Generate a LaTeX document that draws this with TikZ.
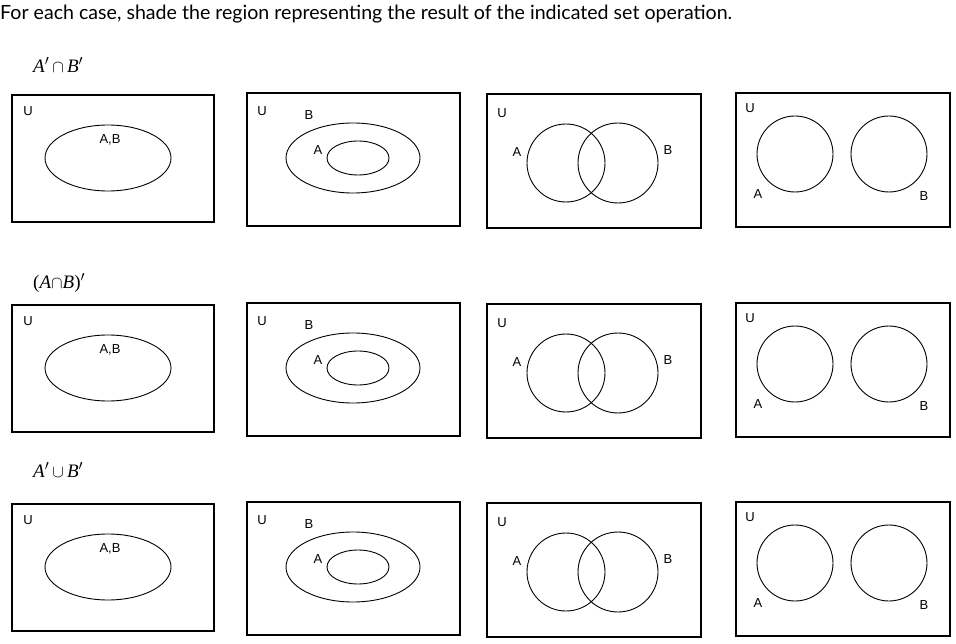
\documentclass[tikz,border=0pt]{standalone}
\usepackage{fontspec}
\setmainfont{Liberation Sans}
\newfontfamily\titlefont{Lato}
\newfontfamily\mathserif{Liberation Serif}
\begin{document}
\begin{tikzpicture}[x=1pt,y=-1pt,
  box/.style={draw,line width=1.1pt},
  set/.style={draw,line width=0.9pt},
  lbl/.style={font=\fontsize{13}{13}\selectfont,inner sep=0pt},
  oplbl/.style={font=\mathserif\itshape\fontsize{19}{19}\selectfont,anchor=west,inner sep=0pt}]
\useasboundingbox (0,0) rectangle (956,644);
\node[anchor=west,inner sep=0pt,font=\titlefont\fontsize{19.6}{19.6}\selectfont] (title) at (0,14) {For each case, shade the region representing the result of the indicated set operation.};
\node[oplbl] (op1) at (33,65) {A$^{\prime}$\,$\cap$\,B$^{\prime}$};
\node[oplbl] (op2) at (33,283) {\upshape(\itshape A$\cap$B\upshape)$^{\prime}$};
\node[oplbl] (op3) at (33,470) {A$^{\prime}$\,$\cup$\,B$^{\prime}$};
\foreach \dy/\r in {0/a,210/b,409/c}{
  \begin{scope}[yshift=-\dy pt]
  \draw[box] (12,95) rectangle (214,222);
  \node[lbl] (u1\r) at (28,111) {U};
  \draw[set] (108,158) ellipse [x radius=63,y radius=33];
  \node[lbl] (ab\r) at (110,140) {A,B};
  \draw[box] (247,93) rectangle (460,226);
  \node[lbl] (u2\r) at (262,111) {U};
  \draw[set] (353,158) ellipse [x radius=67,y radius=35];
  \draw[set] (358,158) ellipse [x radius=31,y radius=17];
  \node[lbl] (b2\r) at (309,115) {B};
  \node[lbl] (a2\r) at (318,150) {A};
  \draw[box] (487,94) rectangle (701,228);
  \node[lbl] (u3\r) at (502,113) {U};
  \draw[set] (566,163) circle [radius=39];
  \draw[set] (618,163) circle [radius=40];
  \node[lbl] (a3\r) at (517,152) {A};
  \node[lbl] (b3\r) at (668,150) {B};
  \draw[box] (736,93) rectangle (950,227);
  \node[lbl] (u4\r) at (750,108) {U};
  \draw[set] (795,154) circle [radius=38];
  \draw[set] (889,154) circle [radius=38];
  \node[lbl] (a4\r) at (758,194) {A};
  \node[lbl] (b4\r) at (924,196) {B};
  \end{scope}
}
\end{tikzpicture}
\end{document}
